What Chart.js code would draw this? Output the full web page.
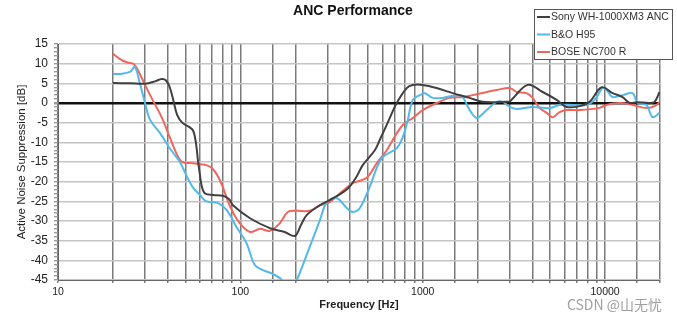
<!DOCTYPE html>
<html>
<head>
<meta charset="utf-8">
<script src="https://cdn.jsdelivr.net/npm/chart.js@4/dist/chart.umd.min.js"></script>
<style>
html,body{margin:0;padding:0;background:#fff;}
#wrap{position:relative;width:677px;height:320px;}
</style>
</head>
<body>
<div id="wrap"><canvas id="c" width="677" height="320"></canvas></div>
<script>
const chartTitle = "ANC Performance";
const xTitle = "Frequency [Hz]";
const yTitle = "Active Noise Suppression [dB]";
const watermark = "CSDN @山无忧";
const seriesNames = ["Sony WH-1000XM3 ANC", "B&O H95", "BOSE NC700 R"];
const xLabelValues = [10, 100, 1000, 10000];

const sonyFreq = [20,25,30,34,37,39,41,43,45,48,52,55,57,58.5,59.5,61.5,64,71,80,87,91,113,145,175,199,215,231,273,309,383,430,469,546,581,650,720,817,882,1000,1193,1460,1809,2132,2886,3000,3762,4546,5424,6152,7250,8222,9568,10994,12474,13625,14882,17533,18671,19892];
const sonyDb   = [5.1,5.0,4.9,5.5,6.1,5.8,4.0,0.5,-3.0,-5.0,-6.0,-7.0,-10,-14.5,-17,-21.3,-23,-23.4,-23.6,-24.5,-26,-29.3,-31.8,-32.8,-33.8,-31,-28.5,-26,-24.7,-22,-19,-15.8,-12,-9.4,-4.5,0,3.8,4.6,4.6,3.8,2.5,1.3,0.3,0.3,0.4,4.6,2.8,0.8,-1,-0.8,0.3,4.0,2.5,1.5,0,0.2,0,0.3,2.8];

const boFreq = [20,22,24.8,26.4,28.1,30,32,36.2,41,46.6,51,55,60,64,68,75,84,96,108,120,133,151,169,185,204,240,273,298,338,383,413,452,512,596,720,777,828,882,963,1026,1134,1287,1536,1657,1809,1977,2243,2544,2744,3000,3274,4006,4966,5633,6637,7917,8762,9689,10190,10994,12474,14150,15072,16882,18207,19892];
const boDb   = [7.4,7.4,7.9,9.2,5,0,-4.3,-7.6,-11.5,-15,-18.8,-21.5,-23.4,-24.8,-25.2,-25.4,-27.2,-31.8,-35.6,-41.2,-42.5,-43.5,-45,-49,-45,-36.6,-29.8,-25.2,-24.2,-26.7,-27.7,-26.7,-21.3,-14,-11.5,-8.7,-4.3,0.8,2,2.5,1.3,1.3,2,1.5,-1.8,-3.8,-1.8,0.3,0.3,-1,-1.5,-1,-1.3,-0.5,-0.5,-0.5,0.8,3.8,3.3,1.5,2,2.5,0,-0.5,-3.6,-2.5];

const boseFreq = [20,22,24,26,27.4,30,33,37,41,45,48,55,60,65,70,75,80,88,99,113,128,145,165,182,204,240,273,309,351,413,493,560,635,685,777,882,1000,1193,1406,1657,1879,2243,2544,3000,3274,3700,4006,4377,4781,5157,5633,6152,7250,9213,10190,12011,14150,16882,19150,19892];
const boseDb   = [12.5,11.1,10.3,9.9,8.4,4.6,0.8,-3.6,-8.7,-13.2,-15,-15.3,-15.6,-15.8,-16.6,-18.5,-21.3,-26.4,-30.5,-32.8,-32,-32.5,-30.5,-27.7,-27.4,-27.4,-26,-25.2,-23,-20.4,-19,-15.3,-12,-9.4,-5.6,-3.8,-1.8,0,1.3,1.5,2,2.8,3.3,3.8,2.8,2.5,1.3,-1.3,-2.5,-3.6,-2.3,-1.8,-1.8,-1.3,-0.5,0,-0.5,-1.3,-0.5,0.3];

const seriesColors = ["#404040", "#52b9ea", "#f1655c"];

function pts(fs, vs){ return fs.map((f,i)=>({x:f, y:vs[i]})); }

const datasets = [
  {label: seriesNames[0], data: pts(sonyFreq, sonyDb)},
  {label: seriesNames[1], data: pts(boFreq, boDb)},
  {label: seriesNames[2], data: pts(boseFreq, boseDb)}
].map((d,i)=>Object.assign(d,{
  borderColor: seriesColors[i], backgroundColor: seriesColors[i],
  borderWidth: 2, pointRadius: 0, tension: 0.35, fill: false
}));

const overlay = {
  id: 'overlay',
  afterDraw(chart){
    const ctx = chart.ctx;
    ctx.save();
    ctx.fillStyle = '#111';
    ctx.font = 'bold 14px "Liberation Sans", Arial, sans-serif';
    ctx.textAlign = 'center'; ctx.textBaseline = 'middle';
    ctx.fillText(chartTitle, 353, 11);
    const bx = 534, by = 9, bw = 138, bh = 50;
    ctx.fillStyle = '#fff';
    ctx.fillRect(bx, by, bw, bh);
    ctx.strokeStyle = '#555'; ctx.lineWidth = 1;
    ctx.strokeRect(bx+0.5, by+0.5, bw, bh);
    ctx.font = '10.5px "Liberation Sans", Arial, sans-serif';
    ctx.textAlign = 'left';
    chart.data.datasets.forEach((ds, i) => {
      const y = by + 8 + i*17.5;
      ctx.strokeStyle = ds.borderColor; ctx.lineWidth = 2;
      ctx.beginPath(); ctx.moveTo(bx+3, y); ctx.lineTo(bx+16, y); ctx.stroke();
      ctx.fillStyle = '#333';
      ctx.fillText(ds.label, bx+17, y+0.5);
    });
    ctx.fillStyle = '#a0a0a0';
    ctx.font = '14px "Noto Sans CJK SC", sans-serif';
    ctx.textAlign = 'right';
    ctx.fillText(watermark, 662, 305);
    ctx.restore();
  }
};

new Chart(document.getElementById('c'), {
  type: 'line',
  data: { datasets },
  plugins: [overlay],
  options: {
    responsive: false,
    animation: false,
    layout: { padding: { top: 44, right: 17, left: 0, bottom: 0 } },
    plugins: { legend: { display: false }, title: { display: false }, tooltip: { enabled: false } },
    scales: {
      x: {
        type: 'logarithmic', min: 10, max: 20000,
        afterFit(s){ s.height = 40; },
        border: { color: '#666', width: 1 },
        grid: { color: '#7a7a7a', lineWidth: 1.5, tickLength: 3, tickColor: '#7a7a7a' },
        ticks: {
          autoSkip: false, maxRotation: 0, padding: 3, color: '#222',
          font: { family: '"Liberation Sans", Arial, sans-serif', size: 10.5 },
          callback: (v) => xLabelValues.includes(v) ? String(v) : ''
        },
        title: { display: true, text: xTitle, color: '#222',
          font: { family: '"Liberation Sans", Arial, sans-serif', size: 11, weight: 'bold' },
          padding: { top: 0, bottom: 8 } }
      },
      y: {
        min: -45, max: 15,
        afterFit(s){ s.width = 58; },
        border: { color: '#666', width: 1 },
        grid: {
          color: (c) => c.tick.value === 0 ? '#111' : (c.tick.value % 5 === 0 ? '#c4c4c4' : 'rgba(0,0,0,0)'),
          lineWidth: (c) => c.tick.value === 0 ? 2.5 : 1.4,
          tickColor: '#999', tickLength: 4
        },
        ticks: {
          stepSize: 1, autoSkip: false, padding: 6, color: '#222',
          font: { family: '"Liberation Sans", Arial, sans-serif', size: 12 },
          callback: (v) => v % 5 === 0 ? String(v) : ''
        },
        title: { display: true, text: yTitle, color: '#222',
          font: { family: '"Liberation Sans", Arial, sans-serif', size: 11.5 },
          padding: { top: 15, bottom: 0 } }
      }
    }
  }
});
</script>
</body>
</html>
